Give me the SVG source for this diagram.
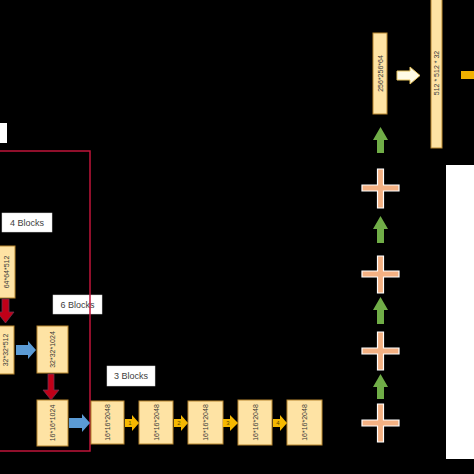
<svg xmlns="http://www.w3.org/2000/svg" width="474" height="474" viewBox="0 0 474 474">
<style>
.bg{fill:#000}
.box{fill:#fee3a4;stroke:#b8862e;stroke-width:1}
.bt{font-family:"Liberation Sans",Arial,sans-serif;font-size:7px;fill:#3a3a3a;text-anchor:middle;dominant-baseline:central}
.lbl{fill:#fff;stroke:#d9d9d9;stroke-width:0.5}
.lt{font-family:"Liberation Sans",Arial,sans-serif;font-size:9px;fill:#404040;text-anchor:middle;dominant-baseline:central}
.red{fill:#c00018;stroke:#6e3350;stroke-width:0.8}
.blue{fill:#5b9bd5}
.yel{fill:#f5b800}
.num{font-family:"Liberation Sans",Arial,sans-serif;font-size:6px;fill:#5a4500;text-anchor:middle;dominant-baseline:central}
.green{fill:#70ad47}
.plus{fill:#f4b183;stroke:#fff;stroke-width:1.2}
</style>
<rect class="bg" x="0" y="0" width="474" height="474"/>
<rect x="-2" y="123" width="9" height="20" fill="#fff"/>
<rect x="446" y="165" width="30" height="294" fill="#fff"/>

<g id="label-4blocks"><rect class="lbl" x="2" y="213" width="50" height="19"/><text class="lt" x="27" y="222.5">4 Blocks</text></g>
<g id="label-6blocks"><rect class="lbl" x="53" y="295" width="49" height="19"/><text class="lt" x="77.5" y="304.5">6 Blocks</text></g>
<g id="label-3blocks"><rect class="lbl" x="107" y="366" width="48" height="20"/><text class="lt" x="131" y="376">3 Blocks</text></g>

<rect id="frame" x="-5" y="151" width="95" height="300" fill="none" stroke="#c0143a" stroke-width="1.5"/>

<g id="n1"><rect class="box" x="-5" y="246" width="20" height="52"/><text class="bt" transform="rotate(-90 6 272)" x="6" y="272">64*64*512</text></g>
<g id="n2"><rect class="box" x="-5" y="326" width="19" height="48"/><text class="bt" transform="rotate(-90 5.5 350)" x="5.5" y="350">32*32*512</text></g>
<g id="n3"><rect class="box" x="37" y="326" width="31" height="47"/><text class="bt" transform="rotate(-90 52.5 349.5)" x="52.5" y="349.5">32*32*1024</text></g>
<g id="n4"><rect class="box" x="37" y="400" width="31" height="46"/><text class="bt" transform="rotate(-90 52.5 423)" x="52.5" y="423">16*16*1024</text></g>
<g id="n5"><rect class="box" x="91" y="401" width="33" height="43"/><text class="bt" transform="rotate(-90 107.5 422.5)" x="107.5" y="422.5">16*16*2048</text></g>
<g id="n6"><rect class="box" x="139" y="401" width="34" height="43"/><text class="bt" transform="rotate(-90 156 422.5)" x="156" y="422.5">16*16*2048</text></g>
<g id="n7"><rect class="box" x="188" y="401" width="35" height="43"/><text class="bt" transform="rotate(-90 205.5 422.5)" x="205.5" y="422.5">16*16*2048</text></g>
<g id="n8"><rect class="box" x="238" y="400" width="34" height="45"/><text class="bt" transform="rotate(-90 255 422.5)" x="255" y="422.5">16*16*2048</text></g>
<g id="n9"><rect class="box" x="287" y="400" width="35" height="45"/><text class="bt" transform="rotate(-90 304.5 422.5)" x="304.5" y="422.5">16*16*2048</text></g>
<g id="n10"><rect class="box" x="373" y="33" width="14" height="81"/><text class="bt" transform="rotate(-90 380 73.5)" x="380" y="73.5">256*256*64</text></g>
<g id="n11"><rect class="box" x="431" y="-2" width="11" height="150"/><text class="bt" transform="rotate(-90 436.5 73)" x="436.5" y="73">512 * 512 * 32</text></g>
<g id="n12"><rect x="461" y="71" width="15" height="8" fill="#f0b000"/></g>

<g id="plus1"><path class="plus" d="M377.5,169h6v16h15.5v6h-15.5v17h-6v-17h-15.5v-6h15.5z"/></g>
<g id="plus2"><path class="plus" d="M377.5,256h6v15h15.5v6h-15.5v16h-6v-16h-15.5v-6h15.5z"/></g>
<g id="plus3"><path class="plus" d="M377.5,332h6v16h15.5v6h-15.5v16h-6v-16h-15.5v-6h15.5z"/></g>
<g id="plus4"><path class="plus" d="M377.5,404h6v16h15.5v6h-15.5v16h-6v-16h-15.5v-6h15.5z"/></g>

<g id="connectors">
<polygon class="red" points="2,299 9,299 9,312 14,312 5.5,323 -3,312 2,312"/>
<polygon class="blue" points="16,345 28,345 28,341 36,350 28,359 28,355 16,355"/>
<polygon class="red" points="48,374 54,374 54,390 59,390 51,400 43,390 48,390"/>
<polygon class="blue" points="69,418 82,418 82,414 90,423 82,432 82,428 69,428"/>
<polygon class="yel" points="125,419 132,419 132,415 139,423 132,431 132,427 125,427"/><text class="num" x="130" y="423">1</text>
<polygon class="yel" points="174,419 181,419 181,415 188,423 181,431 181,427 174,427"/><text class="num" x="179" y="423">2</text>
<polygon class="yel" points="223,419 230,419 230,415 238,423 230,431 230,427 223,427"/><text class="num" x="228" y="423">3</text>
<polygon class="yel" points="273,419 280,419 280,415 287,423 280,431 280,427 273,427"/><text class="num" x="278" y="423">4</text>
<polygon points="397,71 410,71 410,67 420,75.5 410,84 410,80 397,80" fill="#fffbe6" stroke="#e8c560" stroke-width="1"/>
<polygon class="green" points="377,153 384,153 384,140 388,140 380.5,127 373,140 377,140"/>
<polygon class="green" points="377,243 384,243 384,229 388,229 380.5,216 373,229 377,229"/>
<polygon class="green" points="377,324 384,324 384,310 388,310 380.5,297 373,310 377,310"/>
<polygon class="green" points="377,399 384,399 384,387 388,387 380.5,374 373,387 377,387"/>
</g>
</svg>
